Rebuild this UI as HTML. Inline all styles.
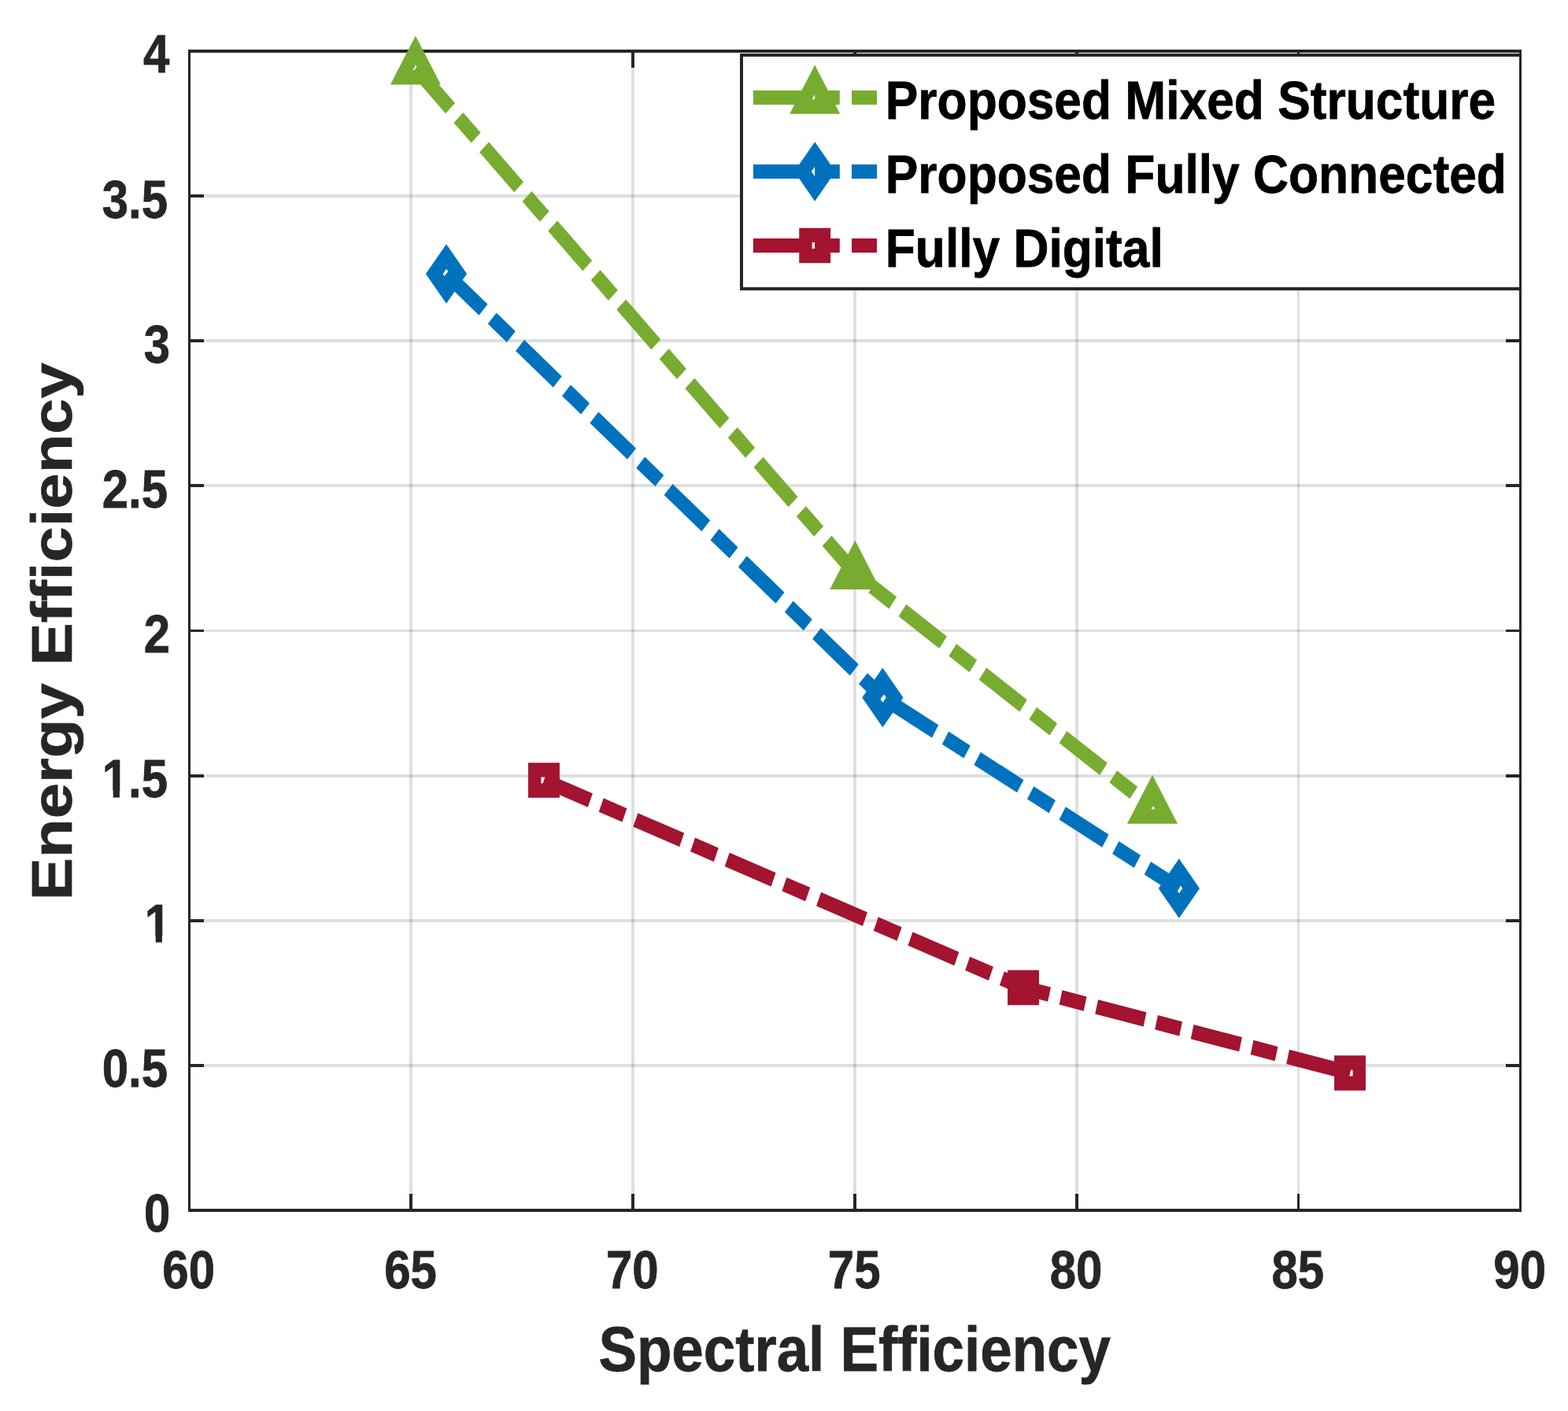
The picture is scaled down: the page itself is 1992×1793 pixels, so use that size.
<!DOCTYPE html>
<html lang="en"><head><meta charset="utf-8"><title>Energy Efficiency vs Spectral Efficiency</title>
<style>
html,body{margin:0;padding:0;background:#fff;}
body{width:1992px;height:1793px;overflow:hidden;}
svg{display:block;}
text{font-family:"Liberation Sans","DejaVu Sans",sans-serif;font-weight:bold;}
.t{fill:#262626;stroke:#262626;}
.l{fill:#000;stroke:#000;}
text{stroke-width:0.7;stroke-linejoin:miter;}
</style></head><body>
<svg xmlns="http://www.w3.org/2000/svg" width="1992" height="1793" viewBox="0 0 1992 1793">
<rect x="0" y="0" width="1992" height="1793" fill="#fff"/>
<g fill="#262626" fill-opacity="0.15" shape-rendering="crispEdges">
<rect x="520" y="67" width="4" height="1469"/>
<rect x="802" y="67" width="4" height="1469"/>
<rect x="1084" y="67" width="4" height="1469"/>
<rect x="1366" y="67" width="4" height="1469"/>
<rect x="1648" y="67" width="3" height="1469"/>
<rect x="242" y="247" width="1688" height="4"/>
<rect x="242" y="431" width="1688" height="4"/>
<rect x="242" y="615" width="1688" height="4"/>
<rect x="242" y="800" width="1688" height="3"/>
<rect x="242" y="984" width="1688" height="4"/>
<rect x="242" y="1168" width="1688" height="4"/>
<rect x="242" y="1352" width="1688" height="4"/>
</g>
<g fill="#262626" shape-rendering="crispEdges">
<rect x="239" y="63" width="1694" height="4"/>
<rect x="239" y="1536" width="1694" height="4"/>
<rect x="239" y="63" width="3" height="1477"/>
<rect x="1930" y="63" width="3" height="1477"/>
<rect x="520" y="67" width="4" height="19"/>
<rect x="520" y="1517" width="4" height="19"/>
<rect x="802" y="67" width="4" height="19"/>
<rect x="802" y="1517" width="4" height="19"/>
<rect x="1084" y="67" width="4" height="19"/>
<rect x="1084" y="1517" width="4" height="19"/>
<rect x="1366" y="67" width="4" height="19"/>
<rect x="1366" y="1517" width="4" height="19"/>
<rect x="1648" y="67" width="3" height="19"/>
<rect x="1648" y="1517" width="3" height="19"/>
<rect x="242" y="247" width="17" height="4"/>
<rect x="1913" y="247" width="17" height="4"/>
<rect x="242" y="431" width="17" height="4"/>
<rect x="1913" y="431" width="17" height="4"/>
<rect x="242" y="615" width="17" height="4"/>
<rect x="1913" y="615" width="17" height="4"/>
<rect x="242" y="800" width="17" height="3"/>
<rect x="1913" y="800" width="17" height="3"/>
<rect x="242" y="984" width="17" height="4"/>
<rect x="1913" y="984" width="17" height="4"/>
<rect x="242" y="1168" width="17" height="4"/>
<rect x="1913" y="1168" width="17" height="4"/>
<rect x="242" y="1352" width="17" height="4"/>
<rect x="1913" y="1352" width="17" height="4"/>
</g>
<g transform="scale(1 1.12)"><polyline points="691.00,885.27 1300.00,1120.54 1715.00,1217.41" fill="none" stroke="#a2142f" stroke-width="16.67" stroke-linejoin="miter" stroke-miterlimit="10" stroke-dasharray="63.1 14.85 31.9 14.9" stroke-dashoffset="-0"/></g>
<g transform="scale(1 1.12)"><path d="M1710.16 1216.28L1715.00 1217.41" fill="none" stroke="#a2142f" stroke-width="16.67"/></g>
<g transform="scale(1 1.12)" fill="none" stroke-linejoin="miter" stroke-miterlimit="10"><path d="M679.25 873.52h23.50v23.50h-23.50ZM1288.25 1108.79h23.50v23.50h-23.50ZM1703.25 1205.66h23.50v23.50h-23.50Z" stroke="#a2142f" stroke-width="16.4"/></g>
<g transform="scale(1 1.12)"><polyline points="567.00,310.71 1121.40,791.43 1497.90,1007.95" fill="none" stroke="#0072bd" stroke-width="16.67" stroke-linejoin="miter" stroke-miterlimit="10" stroke-dasharray="63.1 14.85 31.9 14.9" stroke-dashoffset="0.85"/></g>
<g transform="scale(1 1.12)" fill="none" stroke-linejoin="miter" stroke-miterlimit="10"><path d="M567.00 291.01L582.25 310.71L567.00 330.41L551.75 310.71ZM1121.40 771.73L1136.65 791.43L1121.40 811.13L1106.15 791.43ZM1497.90 988.25L1513.15 1007.95L1497.90 1027.65L1482.65 1007.95Z" stroke="#0072bd" stroke-width="17.2"/></g>
<g transform="scale(1 1.12)"><polyline points="527.90,77.59 1086.30,650.18 1464.00,916.16" fill="none" stroke="#77ac30" stroke-width="16.67" stroke-linejoin="miter" stroke-miterlimit="10" stroke-dasharray="63.1 14.85 31.9 14.9" stroke-dashoffset="-0.15"/></g>
<g transform="scale(1 1.12)" fill="none" stroke-linejoin="miter" stroke-miterlimit="10"><path d="M527.90 57.09L545.65 87.84L510.15 87.84ZM1086.30 629.68L1104.05 660.43L1068.55 660.43ZM1464.00 895.66L1481.75 926.41L1446.25 926.41Z" stroke="#77ac30" stroke-width="16.5"/></g>
<rect x="940" y="68" width="993" height="301" fill="#fff"/>
<g fill="#262626" shape-rendering="crispEdges">
<rect x="940" y="68" width="993" height="4"/>
<rect x="940" y="365" width="993" height="4"/>
<rect x="940" y="68" width="4" height="301"/>
<rect x="1930" y="68" width="3" height="301"/>
</g>
<path d="M956.90 124.00H1114.00" fill="none" stroke="#77ac30" stroke-width="17.9" stroke-dasharray="62.5 15.7 31.7 15.2 40"/>
<g transform="scale(1 1.12)" fill="none" stroke-linejoin="miter" stroke-miterlimit="10"><path d="M1035.20 90.22L1052.95 120.96L1017.45 120.96Z" stroke="#77ac30" stroke-width="16.5"/></g>
<path d="M956.90 218.00H1114.00" fill="none" stroke="#0072bd" stroke-width="17.9" stroke-dasharray="62.5 15.7 31.7 15.2 40"/>
<g transform="scale(1 1.12)" fill="none" stroke-linejoin="miter" stroke-miterlimit="10"><path d="M1035.20 174.94L1050.45 194.64L1035.20 214.34L1019.95 194.64Z" stroke="#0072bd" stroke-width="17.2"/></g>
<path d="M956.90 312.00H1114.00" fill="none" stroke="#a2142f" stroke-width="17.9" stroke-dasharray="62.5 15.7 31.7 15.2 40"/>
<g transform="scale(1 1.12)" fill="none" stroke-linejoin="miter" stroke-miterlimit="10"><path d="M1023.45 266.82h23.50v23.50h-23.50Z" stroke="#a2142f" stroke-width="16.4"/></g>
<text class="t" transform="translate(239.70 1636.90) scale(0.96 1.11)" font-size="62.5" text-anchor="middle">60</text>
<text class="t" transform="translate(521.53 1636.90) scale(0.96 1.11)" font-size="62.5" text-anchor="middle">65</text>
<text class="t" transform="translate(803.37 1636.90) scale(0.96 1.11)" font-size="62.5" text-anchor="middle">70</text>
<text class="t" transform="translate(1085.20 1636.90) scale(0.96 1.11)" font-size="62.5" text-anchor="middle">75</text>
<text class="t" transform="translate(1367.03 1636.90) scale(0.96 1.11)" font-size="62.5" text-anchor="middle">80</text>
<text class="t" transform="translate(1648.87 1636.90) scale(0.96 1.11)" font-size="62.5" text-anchor="middle">85</text>
<text class="t" transform="translate(1930.70 1636.90) scale(0.96 1.11)" font-size="62.5" text-anchor="middle">90</text>
<text class="t" transform="translate(216.50 1565.40) scale(0.96 1.11)" font-size="62.5" text-anchor="end">0</text>
<text class="t" transform="translate(213.10 1381.28) scale(0.96 1.11)" font-size="62.5" text-anchor="end">0.5</text>
<clipPath id="one1"><rect x="178.73" y="1117.15" width="43.37" height="71.62"/><rect x="197.73" y="1187.77" width="8.23" height="12.38"/><rect x="217.10" y="1117.15" width="5.00" height="90.00"/></clipPath>
<g clip-path="url(#one1)"><text class="t" transform="translate(217.10 1197.15) scale(0.96 1.11)" font-size="62.5" text-anchor="end">1</text></g>
<clipPath id="one3"><rect x="124.69" y="933.02" width="93.41" height="71.62"/><rect x="143.69" y="1003.65" width="8.23" height="12.38"/><rect x="163.06" y="933.02" width="55.04" height="90.00"/></clipPath>
<g clip-path="url(#one3)"><text class="t" transform="translate(213.10 1013.02) scale(0.96 1.11)" font-size="62.5" text-anchor="end">1.5</text></g>
<text class="t" transform="translate(216.10 828.90) scale(0.96 1.11)" font-size="62.5" text-anchor="end">2</text>
<text class="t" transform="translate(213.10 644.77) scale(0.96 1.11)" font-size="62.5" text-anchor="end">2.5</text>
<text class="t" transform="translate(216.10 460.65) scale(0.96 1.11)" font-size="62.5" text-anchor="end">3</text>
<text class="t" transform="translate(213.10 276.52) scale(0.96 1.11)" font-size="62.5" text-anchor="end">3.5</text>
<text class="t" transform="translate(215.50 92.40) scale(0.96 1.11)" font-size="62.5" text-anchor="end">4</text>
<text class="t" transform="translate(1085.70 1741.80) scale(1 1.105)" font-size="72.7" text-anchor="middle">Spectral Efficiency</text>
<text class="l" transform="translate(1124.80 151.00) scale(1 1.105)" font-size="62.3" text-anchor="start">Proposed Mixed Structure</text>
<text class="l" transform="translate(1124.80 244.90) scale(1 1.105)" font-size="62.3" text-anchor="start">Proposed Fully Connected</text>
<text class="l" transform="translate(1124.80 338.90) scale(1 1.105)" font-size="62.3" text-anchor="start">Fully Digital</text>
<text class="t" transform="translate(91.00 802.70) scale(0.987 1.12) rotate(-90)" font-size="72.7" text-anchor="middle">Energy Efficiency</text>
</svg>
</body></html>
